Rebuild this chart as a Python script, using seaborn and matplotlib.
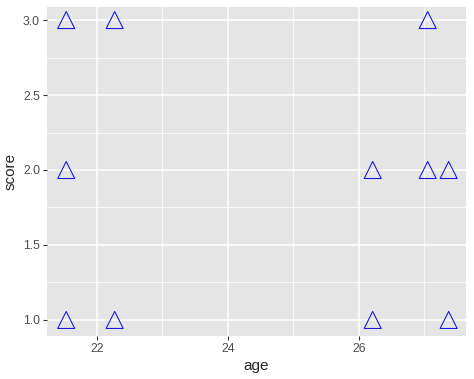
import pandas as pd
import matplotlib.pyplot as plt
import seaborn as sns
from matplotlib.ticker import MultipleLocator

age = [21.53, 21.53, 21.53, 22.27, 22.27, 26.21, 26.21, 27.05, 27.05, 27.37, 27.37]
score = [3, 2, 1, 3, 1, 2, 1, 3, 2, 2, 1]

df = pd.DataFrame({'age': age, 'score': score})

sns.set_theme(style="darkgrid", rc={
    'axes.facecolor': '#E5E5E5',
    'grid.color': 'white',
})
plt.rcParams['font.family'] = ['Liberation Sans', 'DejaVu Sans']

fig = plt.figure(figsize=(4.74, 3.79), dpi=100)
ax = fig.add_axes([0.0992, 0.1135, 0.8838, 0.868])

sns.scatterplot(data=df, x='age', y='score', marker='^', s=150,
                facecolors='none', edgecolor='#1010E0', linewidth=0.75, ax=ax)

ax.set_xlim(21.237, 27.634)
ax.set_ylim(0.893, 3.087)
ax.xaxis.set_major_locator(MultipleLocator(2))
ax.xaxis.set_minor_locator(MultipleLocator(1))
ax.yaxis.set_major_locator(MultipleLocator(0.5))
ax.yaxis.set_minor_locator(MultipleLocator(0.25))
ax.set_yticklabels([f"{v:.1f}" for v in ax.get_yticks()])
ax.grid(which='major', color='white', linewidth=1.1)
ax.grid(which='minor', color='white', linewidth=0.5)
for s in ax.spines.values():
    s.set_visible(False)
ax.tick_params(which='major', length=3, width=0.8, color='#333333',
               labelsize=8.8, labelcolor='#4D4D4D', pad=2, left=True, bottom=True)
ax.tick_params(which='minor', length=0)
ax.set_xlabel('age', fontsize=11, labelpad=3)
ax.set_ylabel('score', fontsize=11, labelpad=4)

fig.savefig('out.png', dpi=100)
